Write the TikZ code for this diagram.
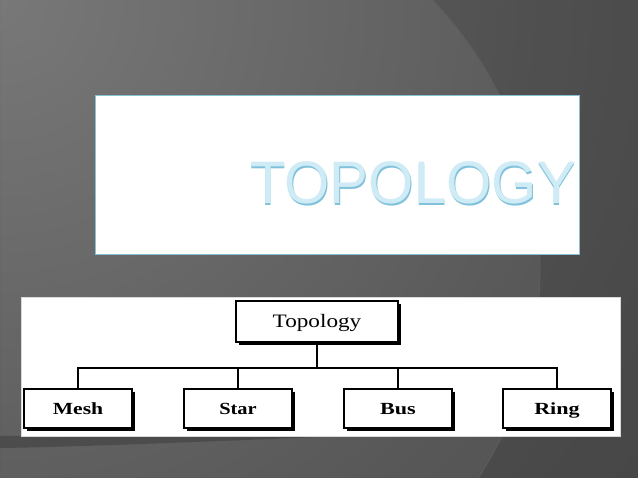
\documentclass[tikz,border=0pt]{standalone}
\usepackage{fontspec}
\usepackage{graphicx}
\usetikzlibrary{shadows}
\setmainfont{Liberation Serif}
\newfontfamily\titlefont{Liberation Sans}
\definecolor{bgbase}{HTML}{424242}
\definecolor{bgmid}{HTML}{585858}
\definecolor{bglight}{HTML}{787878}
\definecolor{arcline}{HTML}{5E5E5E}
\definecolor{titleborder}{HTML}{86C0D2}
\definecolor{titleshade}{HTML}{7FC2DA}
\definecolor{titlefill}{HTML}{CFEBF5}
\pgfdeclareradialshading{bgshade}{\pgfpoint{0bp}{0bp}}{color(0bp)=(bglight); color(15bp)=(bgmid); color(30bp)=(bgbase); color(100bp)=(bgbase)}
\tikzset{
  treebox/.style={draw=black, line width=2pt, fill=white, rectangle,
    drop shadow={shadow xshift=3pt, shadow yshift=-3pt, fill=black, opacity=1},
    inner sep=0pt},
  rootbox/.style={treebox, minimum width=162pt, minimum height=41pt,
    text height=12.5pt, text depth=0pt, font=\fontsize{19}{22}\selectfont},
  leafbox/.style={treebox, minimum width=108pt, minimum height=39pt,
    text height=11.3pt, text depth=0pt, font=\fontsize{17}{20}\selectfont\bfseries},
  link/.style={draw=black, line width=2pt}
}
\begin{document}
\begin{tikzpicture}[x=1pt,y=1pt]
\useasboundingbox (0,0) rectangle (638,478);
% background
\fill[bgbase] (0,0) rectangle (638,478);
\begin{scope}
  \clip (0,0) rectangle (638,478);
  \shade[shading=bgshade] (0,478) circle (1000);
  \fill[black, opacity=0.12, even odd rule] (0,0) rectangle (638,478) (152,210) circle (388);
  \draw[arcline, line width=0.8pt] (152,210) circle (388);
  \fill[black, opacity=0.2] (0,42) -- (345,42) .. controls (220,37) and (80,31) .. (0,30) -- cycle;
\end{scope}
% title box
\node[draw=titleborder, line width=1pt, fill=white, minimum width=484pt, minimum height=159pt, inner sep=0pt] (titlebox) at (337.5,303) {};
\node[anchor=base west, inner sep=0pt, text=titleshade, font=\titlefont\fontsize{60}{60}\selectfont, xscale=0.97, transform shape] (titleshadow) at (250.6,272.6) {TOPOLOGY};
\node[anchor=base west, inner sep=0pt, text=titlefill, font=\titlefont\fontsize{60}{60}\selectfont, xscale=0.97, transform shape] (titletext) at (250,274) {TOPOLOGY};
% diagram panel
\node[fill=white, draw=black!15, line width=0.5pt, minimum width=599pt, minimum height=139pt, inner sep=0pt] (panel) at (320.5,111.5) {};
% tree
\node[rootbox] (root) at (317,156.5) {\scalebox{1.22}[1]{Topology}};
\node[leafbox] (mesh) at (78,69.5) {\scalebox{1.27}[1]{Mesh}};
\node[leafbox] (star) at (238,69.5) {\scalebox{1.2}[1]{Star}};
\node[leafbox] (bus) at (398,69.5) {\scalebox{1.3}[1]{Bus}};
\node[leafbox] (ring) at (557,69.5) {\scalebox{1.3}[1]{Ring}};
\coordinate (bar) at (317,110);
\draw[link] (root.south) -- (bar);
\draw[link] (mesh.north) |- (bar) -| (ring.north);
\draw[link] (star.north) -- (star.north |- bar);
\draw[link] (bus.north) -- (bus.north |- bar);
\end{tikzpicture}
\end{document}
